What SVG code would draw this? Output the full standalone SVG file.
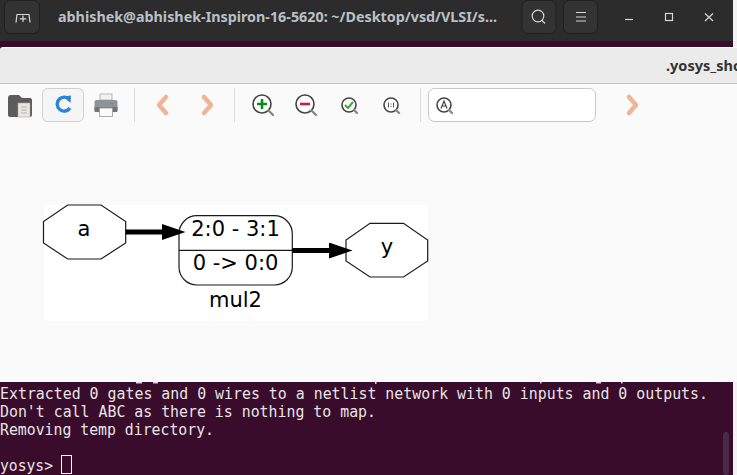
<svg xmlns="http://www.w3.org/2000/svg" width="737" height="475" viewBox="0 0 737 475">
<style>
.term{font-family:"DejaVu Sans Mono","Liberation Mono",monospace;font-size:15px;fill:#e8e4e6}
.g{font-family:"DejaVu Sans",sans-serif;font-size:21px;fill:#000;text-anchor:middle}
.n{fill:#fff;stroke:#1a1a1a;stroke-width:1.2}
.ui{font-family:"Noto Sans","DejaVu Sans",sans-serif;font-weight:700;font-size:14.5px}
.btn{fill:#333;stroke:#1f1f1f;stroke-width:1}
.ic{fill:none;stroke:#d6d6d6;stroke-width:1.2}
.chev{fill:none;stroke:#f0b597;stroke-width:4.5;stroke-linejoin:round;stroke-linecap:round}
.sep{stroke:#dcdcdc;stroke-width:1}
.mag{fill:#fff;stroke:#444;stroke-width:1.6}
.hnd{stroke:#888;stroke-width:2.4;stroke-linecap:round}
.sp{fill:#d8d4d6}
</style>
<defs><marker id="ah" markerUnits="userSpaceOnUse" markerWidth="24" markerHeight="16" refX="0" refY="8" orient="auto"><path d="M0 0L23.5 8L0 16Z" fill="#000"/></marker></defs>
<rect width="737" height="475" fill="#f2f2f2"/>
<rect width="733" height="475" fill="#380c2a"/>
<g id="terminal-titlebar">
<rect width="733" height="41" fill="#2c2c2c"/>
<rect x="4.500" y="0.500" width="35" height="33" rx="6" class="btn"/>
<path d="M16 22.500L17 14.500H29L30 22.500" class="ic"/><path d="M23 15.500V22M19.800 18.800H26.200" class="ic"/>
<text x="58" y="22" class="ui" fill="#b9c0c6" textLength="439" lengthAdjust="spacingAndGlyphs">abhishek@abhishek-Inspiron-16-5620: ~/Desktop/vsd/VLSI/s...</text>
<rect x="522" y="0.500" width="34" height="33" rx="6" class="btn"/>
<circle cx="538" cy="16" r="5.800" class="ic"/><path d="M542 20.500L545 23.500" class="ic"/>
<rect x="563.500" y="0.500" width="34" height="33" rx="6" class="btn"/>
<path d="M576 12.500H586M576 17H586M576 21H586" class="ic"/>
<path d="M625 19.500H633" class="ic"/><rect x="665.500" y="13.500" width="7" height="7" class="ic"/><path d="M705 13.500L713 21M713 13.500L705 21" class="ic"/>
</g>
<g id="viewer-window">
<path d="M0 50Q0 47 3 47H737V382H0Z" fill="#fafafa"/>
<path d="M0 50Q0 48 3 48H737V83H0Z" fill="#ebebeb"/>
<rect x="3" y="47" width="734" height="1" fill="#fff"/>
<rect y="83" width="737" height="1" fill="#c4c4c4"/>
<text x="666" y="71" class="ui" font-size="14" fill="#333">.yosys_sho</text>
</g>
<g id="toolbar">
<path d="M8 98Q8 95 11 95H19L22 98H30Q32 98 32 100V115Q32 117 30 117H10Q8 117 8 115Z" fill="#5c5c5c"/>
<path d="M18 103H30V117H18Z" fill="#e9e7e0" stroke="#aaa" stroke-width=".6"/>
<path d="M21 107H27M21 110H27M21 113H27" stroke="#aaa" stroke-width=".8"/>
<rect x="42.500" y="88.500" width="41" height="33" rx="5" fill="#f5f5f5" stroke="#d0d0d0"/>
<path d="M69.500 99.500A7 7 0 1 0 70 108" fill="none" stroke="#2a85d8" stroke-width="3.400"/><path d="M63 96.500L71 95.500L70.500 103Z" fill="#2a85d8"/>
<rect x="100" y="94" width="12" height="6" fill="#f2f2f2" stroke="#aaa" stroke-width=".8"/>
<rect x="94.500" y="100" width="23" height="12" rx="2" fill="#8d9396"/>
<rect x="94.500" y="107" width="23" height="5" rx="1" fill="#6f7477"/>
<rect x="99.500" y="108" width="13" height="8.500" fill="#fafafa" stroke="#999" stroke-width=".8"/>
<path d="M110 103.500H113.500" stroke="#e05040" stroke-width="1" stroke-dasharray="1 .5"/>
<line x1="134.500" y1="88" x2="134.500" y2="122" class="sep"/>
<path d="M166 97L159 105L166 113" class="chev"/><path d="M204 97L211 105L204 113" class="chev"/>
<line x1="234.500" y1="88" x2="234.500" y2="122" class="sep"/>
<circle cx="262" cy="104" r="9" class="mag"/><line x1="268.500" y1="110.500" x2="273" y2="115" class="hnd"/><path d="M262 99V109M257 104H267" stroke="#0c8a1e" stroke-width="2.600"/>
<circle cx="305" cy="104" r="9" class="mag"/><line x1="311.500" y1="110.500" x2="316" y2="115" class="hnd"/><path d="M300 104H310" stroke="#c5203c" stroke-width="2.600"/>
<circle cx="349" cy="105" r="7" class="mag"/><line x1="354" y1="110" x2="357" y2="113" class="hnd"/><path d="M345 105L348 108L353 102" fill="none" stroke="#3aaa35" stroke-width="2"/>
<circle cx="391" cy="105" r="7" class="mag"/><line x1="396" y1="110" x2="399" y2="113" class="hnd"/><path d="M388.500 102.500V107.500M393.500 102.500V107.500M391 103.500V104.500M391 106V107" stroke="#555" stroke-width="1"/>
<line x1="420.500" y1="88" x2="420.500" y2="122" class="sep"/>
<rect x="428.500" y="88.500" width="167" height="33" rx="6" fill="#fff" stroke="#c8c8c8"/>
<circle cx="444" cy="105" r="7" class="mag"/><line x1="449" y1="110" x2="452" y2="113" class="hnd"/>
<path d="M441 108.500L444 101L447 108.500M442 106H446" fill="none" stroke="#444" stroke-width="1.200"/>
<path d="M629 97L636 105L629 113" class="chev"/>
</g>
<rect x="44" y="205" width="384" height="115.500" fill="#fff"/>
<g id="a"><polygon class="n" points="67.700,205 101,205 125.700,221.500 125.700,243 101,259 67.700,259 43.500,243 43.500,221.500"/><text x="84" y="236" class="g">a</text></g>
<g id="mul2"><rect class="n" x="179" y="215.700" width="113.300" height="69.300" rx="18"/><line class="n" x1="179" y1="250.300" x2="292.300" y2="250.300"/><text x="235.500" y="236" class="g">2:0 - 3:1</text><text x="235.500" y="270" class="g">0 -&gt; 0:0</text><text x="235.500" y="307" class="g">mul2</text></g>
<g id="y"><polygon class="n" points="370,223.300 403.500,223.300 427.700,240 427.700,261 403.500,277 370,277 346,261 346,240"/><text x="387" y="254" class="g">y</text></g>
<g id="connectors" stroke="#000" fill="none">
<line x1="125.700" y1="232" x2="162" y2="232" stroke-width="5" marker-end="url(#ah)"/>
<line x1="292.300" y1="250.500" x2="329" y2="250.500" stroke-width="5" marker-end="url(#ah)"/>
</g>
<g id="terminal-text">
<path class="sp" d="M136 382h6v1.500h-6zM153 382h5v1.500h-5zM375 382h1.500v2h-1.500zM540 382h1.500v1.500h-1.500zM596 382h5v1.500h-5zM621 382h1.500v1.500h-1.500z"/>
<text x="0" y="399" class="term" textLength="708" lengthAdjust="spacingAndGlyphs">Extracted 0 gates and 0 wires to a netlist network with 0 inputs and 0 outputs.</text>
<text x="0" y="417" class="term" textLength="376" lengthAdjust="spacingAndGlyphs">Don't call ABC as there is nothing to map.</text>
<text x="0" y="435" class="term" textLength="214" lengthAdjust="spacingAndGlyphs">Removing temp directory.</text>
<text x="0" y="471" class="term" textLength="53" lengthAdjust="spacingAndGlyphs">yosys&gt;</text>
<rect x="61.500" y="455.500" width="10" height="18" fill="none" stroke="#fff"/>
<rect x="723" y="432" width="6" height="43" rx="3" fill="#4a2a42"/>
</g>
</svg>
